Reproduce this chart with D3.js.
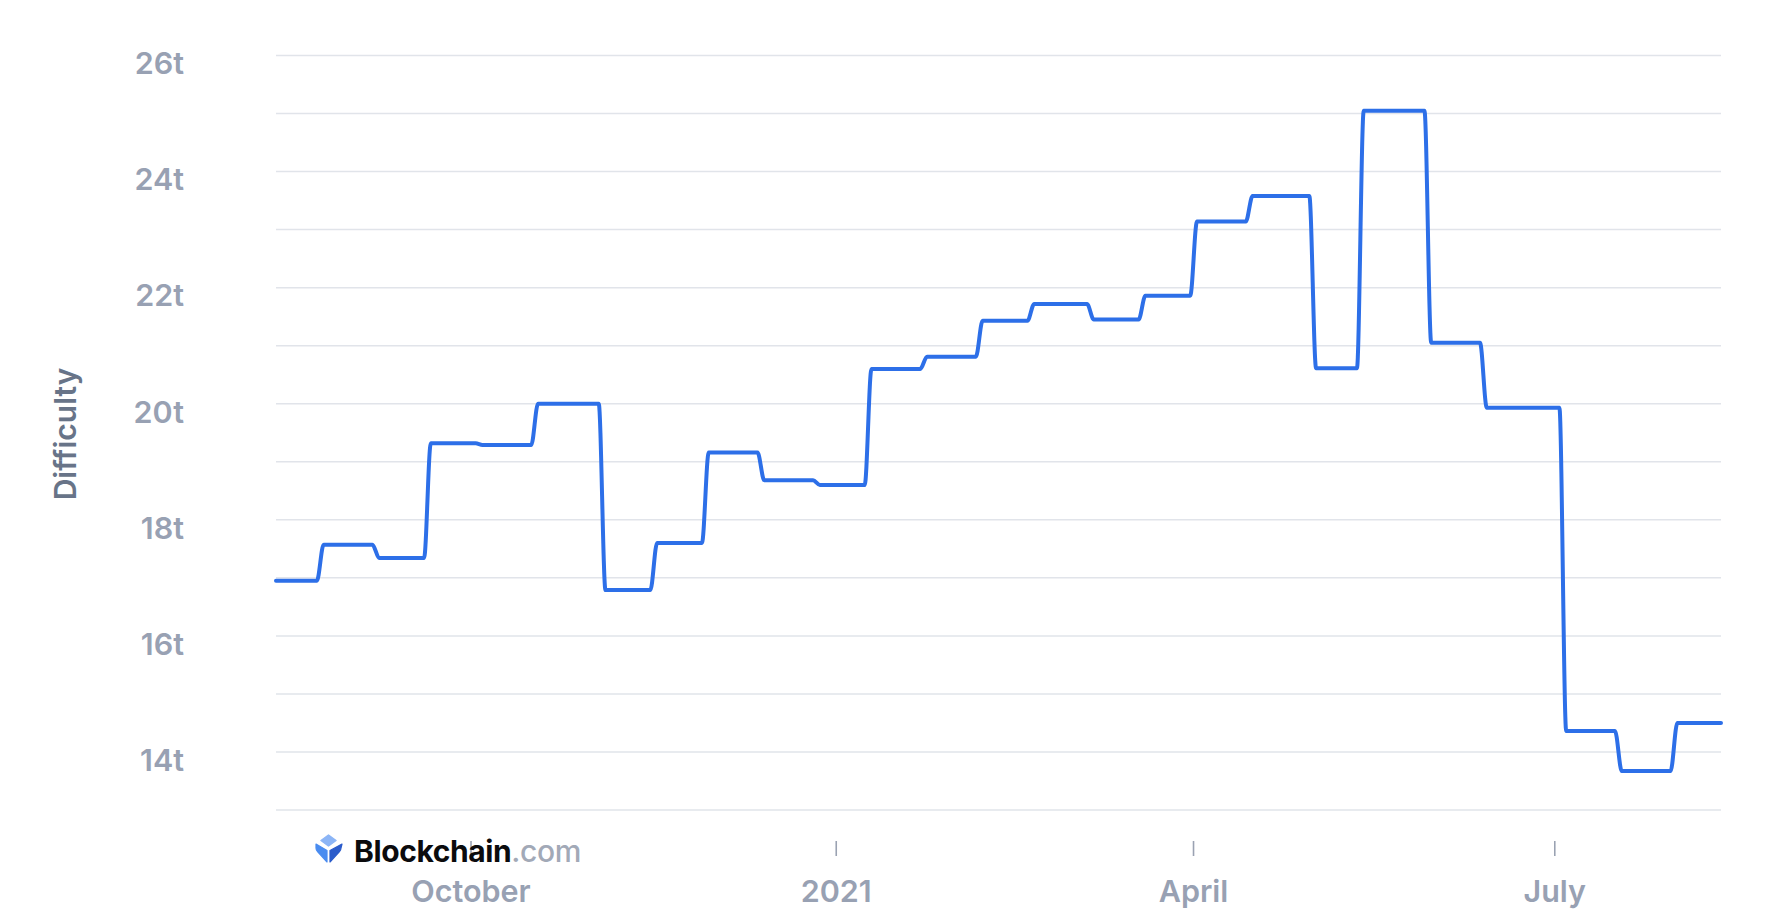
<!DOCTYPE html>
<html>
<head>
<meta charset="utf-8">
<script src="https://cdn.jsdelivr.net/npm/d3@7"></script>
<style>
  html, body { margin: 0; padding: 0; background: #ffffff; }
  svg { display: block; }
  text { font-family: Inter, "Noto Sans", sans-serif; }
</style>
</head>
<body>
<svg id="chart" width="1766" height="920"></svg>
<script>
// ---- Data ----
// Dates on which each difficulty level first appears in the daily series
const changeDates = [
  "2020-08-13", "2020-08-25", "2020-09-08", "2020-09-21", "2020-10-04",
  "2020-10-18", "2020-11-04", "2020-11-17", "2020-11-30", "2020-12-14",
  "2020-12-28", "2021-01-10", "2021-01-24", "2021-02-07", "2021-02-20",
  "2021-03-07", "2021-03-20", "2021-04-02", "2021-04-16", "2021-05-02",
  "2021-05-14", "2021-05-31", "2021-06-14", "2021-07-04", "2021-07-18",
  "2021-08-01"
];
// Difficulty, in trillions (t)
const difficulty = [
  16.95, 17.57, 17.34, 19.32, 19.29,
  20.00, 16.79, 17.60, 19.16, 18.68,
  18.60, 20.60, 20.81, 21.43, 21.72,
  21.45, 21.86, 23.14, 23.58, 20.61,
  25.05, 21.05, 19.93, 14.36, 13.67,
  14.50
];
const seriesEnd = "2021-08-12";

const yTickValues = [14, 16, 18, 20, 22, 24, 26];
const yTickLabels = ["14t", "16t", "18t", "20t", "22t", "24t", "26t"];
const xTickDates = ["2020-10-01", "2021-01-01", "2021-04-01", "2021-07-01"];
const xTickLabels = ["October", "2021", "April", "July"];
const yAxisTitle = "Difficulty";

// ---- Layout ----
const svg = d3.select("#chart");
const W = 1766, H = 920;
const plot = { left: 276, right: 1721, top: 55.5, bottom: 810 };
svg.append("rect").attr("width", W).attr("height", H).attr("fill", "#ffffff");

const parse = d3.utcParse("%Y-%m-%d");
const DAY = 864e5;
const transitionDays = 1.7;

const x = d3.scaleUtc()
  .domain([parse(changeDates[0]), parse(seriesEnd)])
  .range([plot.left, plot.right]);
const y = d3.scaleLinear()
  .domain([13, 26])
  .range([plot.bottom, plot.top]);

// Grid lines (every 1t)
svg.append("g")
  .selectAll("line")
  .data(y.ticks(13))
  .join("line")
  .attr("x1", plot.left).attr("x2", plot.right)
  .attr("y1", d => y(d)).attr("y2", d => y(d))
  .attr("stroke", "#e1e4ea")
  .attr("stroke-width", 1.5);

// Y axis labels
const yAxis = d3.axisLeft(y)
  .tickValues(yTickValues)
  .tickFormat((d, i) => yTickLabels[i])
  .tickSize(0)
  .tickPadding(0);
const gy = svg.append("g").attr("transform", "translate(184,0)").call(yAxis);
gy.select(".domain").remove();
gy.selectAll("text")
  .attr("x", 0)
  .attr("dy", "0.6em")
  .attr("text-anchor", "end")
  .style("font-family", "Inter, sans-serif")
  .style("font-size", "30.5px")
  .style("font-weight", 600)
  .attr("fill", "#98a1b3");

// Y axis title
svg.append("text")
  .attr("transform", "translate(76,434) rotate(-90)")
  .attr("text-anchor", "middle")
  .style("font-size", "30px")
  .style("font-weight", 600)
  .attr("fill", "#687488")
  .text(yAxisTitle);

// X axis
const xAxis = d3.axisBottom(x)
  .tickValues(xTickDates.map(parse))
  .tickFormat((d, i) => xTickLabels[i])
  .tickSize(0)
  .tickPadding(0);
const gx = svg.append("g").attr("transform", "translate(0,841)").call(xAxis);
gx.select(".domain").remove();
gx.selectAll(".tick line")
  .attr("y1", 0).attr("y2", 15)
  .attr("stroke", "#9aa2b2")
  .attr("stroke-width", 1.6);
gx.selectAll("text")
  .attr("y", 61)
  .attr("dy", 0)
  .style("font-family", "Inter, sans-serif")
  .style("font-size", "30.5px")
  .style("font-weight", 600)
  .attr("fill", "#98a1b3");

// ---- Line (step levels joined by smooth short transitions) ----
const pts = [];
changeDates.forEach((ds, i) => {
  const start = parse(ds);
  const end = i < changeDates.length - 1
    ? new Date(+parse(changeDates[i + 1]) - transitionDays * DAY)
    : parse(seriesEnd);
  pts.push({ d: start, v: difficulty[i] });
  pts.push({ d: end, v: difficulty[i] });
});
const line = d3.line()
  .x(p => x(p.d))
  .y(p => y(p.v))
  .curve(d3.curveMonotoneX);
svg.append("path")
  .datum(pts)
  .attr("d", line)
  .attr("fill", "none")
  .attr("stroke", "#2d6fe8")
  .attr("stroke-width", 4)
  .attr("stroke-linejoin", "round")
  .attr("stroke-linecap", "round");

// ---- Watermark logo ----
const logo = svg.append("g").attr("transform", "translate(315,834)");
logo.append("path")
  .attr("d", "M13.5,1 L21,6.5 L13.5,12 L6,6.5 Z")
  .attr("fill", "#8cb5f6").attr("stroke", "#8cb5f6").attr("stroke-width", 1.5).attr("stroke-linejoin", "round");
logo.append("path")
  .attr("d", "M1,10 L12,16.5 L12,28 L2.5,17.5 Q1,16 1,14 Z")
  .attr("fill", "#4a8cf0").attr("stroke", "#4a8cf0").attr("stroke-width", 1.2).attr("stroke-linejoin", "round");
logo.append("path")
  .attr("d", "M27,10 L15,16.5 L15,28 L24.5,17.5 Q26,16 26,14 Z")
  .attr("fill", "#2b5ccb").attr("stroke", "#2b5ccb").attr("stroke-width", 1.2).attr("stroke-linejoin", "round");
const lt = svg.append("text")
  .attr("x", 354).attr("y", 861.5)
  .style("font-size", "30px")
  .style("letter-spacing", "-0.4px");
lt.append("tspan").style("font-weight", 700).attr("fill", "#0b0b0d").text("Blockchain");
lt.append("tspan").style("font-weight", 500).attr("fill", "#a2a9b7").text(".com");
</script>
</body>
</html>
